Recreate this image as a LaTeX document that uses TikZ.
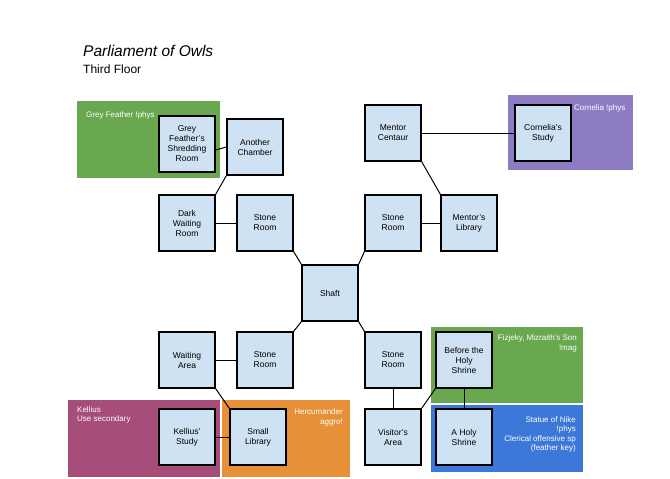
\documentclass[tikz,border=0pt]{standalone}
\usepackage{fontspec}
\setmainfont{Liberation Sans}
\begin{document}
\begin{tikzpicture}[x=1pt,y=-1pt,
  room/.style={draw=black,line width=1.2pt,fill=roomblue,minimum width=56pt,minimum height=56pt,inner sep=1pt,align=center,font=\fontsize{8.5}{10}\selectfont},
  zlabel/.style={text=white,font=\fontsize{8}{9.5}\selectfont,inner sep=0pt},
  link/.style={line width=1pt}]
\definecolor{roomblue}{HTML}{CFE2F3}
\definecolor{zgreen}{HTML}{6AA84F}
\definecolor{zpurple}{HTML}{8E7CC3}
\definecolor{zpink}{HTML}{A64D79}
\definecolor{zorange}{HTML}{E69138}
\definecolor{zblue}{HTML}{3C78D8}
\useasboundingbox (0,0) rectangle (670,479);
\fill[white] (0,0) rectangle (670,479);
% zones
\fill[zgreen] (77,101) rectangle (220,178);
\fill[zpurple] (508,95) rectangle (633,170);
\fill[zgreen] (431,327) rectangle (583,403);
\fill[zblue] (431,405) rectangle (583,472);
\fill[zpink] (68,400) rectangle (220,477);
\fill[zorange] (222,400) rectangle (350,477);
\node[zlabel,anchor=west] (lg) at (86,115) {Grey Feather !phys};
\node[zlabel,anchor=west] (lc) at (574,108) {Cornelia !phys};
\node[zlabel,anchor=north east,align=right] (lf) at (577,335) {Fizjeky, Mizraith's Son\\!mag};
\node[zlabel,anchor=north east,align=right] (ln) at (576,416) {Statue of Nike\\!phys\\Clerical offensive sp\\(feather key)};
\node[zlabel,anchor=north west,align=left] (lk) at (77,406) {Kellius\\Use secondary};
\node[zlabel,anchor=north east,align=right] (lh) at (343,409) {Hercumander\\aggro!};
% title
\node[anchor=west,font=\fontsize{15.5}{18}\selectfont\itshape,inner sep=0pt] (t1) at (83,51) {Parliament of Owls};
\node[anchor=west,font=\fontsize{12}{14}\selectfont,inner sep=0pt] (t2) at (83,69) {Third Floor};
% rooms
\node[room] (grey) at (187,144) {Grey\\Feather's\\Shredding\\Room};
\node[room] (another) at (255,147) {Another\\Chamber};
\node[room] (dark) at (187,223) {Dark\\Waiting\\Room};
\node[room] (s1) at (265,223) {Stone\\Room};
\node[room] (mentor) at (393,133) {Mentor\\Centaur};
\node[room] (cornelia) at (543,133) {Cornelia's\\Study};
\node[room] (s2) at (393,223) {Stone\\Room};
\node[room] (library) at (469,223) {Mentor's\\Library};
\node[room] (shaft) at (330,293) {Shaft};
\node[room] (waiting) at (187,360) {Waiting\\Area};
\node[room] (s3) at (265,360) {Stone\\Room};
\node[room] (s4) at (393,360) {Stone\\Room};
\node[room] (before) at (464,360) {Before the\\Holy\\Shrine};
\node[room] (holy) at (464,437) {A Holy\\Shrine};
\node[room] (visitor) at (393,437) {Visitor's\\Area};
\node[room] (kellius) at (187,437) {Kellius'\\Study};
\node[room] (small) at (258,437) {Small\\Library};
% links
\draw[link] (grey.east) ++(0,6) -- (another.west);
\draw[link] (another.south west) -- (dark.north east);
\draw[link] (dark) -- (s1);
\draw[link] (s1.south east) -- (shaft.north west);
\draw[link] (mentor) -- (cornelia);
\draw[link] (mentor.south east) -- (library.north west);
\draw[link] (s2) -- (library);
\draw[link] (s2.south west) -- (shaft.north east);
\draw[link] (shaft.south west) -- (s3.north east);
\draw[link] (shaft.south east) -- (s4.north west);
\draw[link] (waiting) -- (s3);
\draw[link] (waiting.south east) -- (small.north west);
\draw[link] (kellius) -- (small);
\draw[link] (s4) -- (visitor);
\draw[link] (visitor.north east) -- (before.south west);
\draw[link] (before) -- (holy);
\end{tikzpicture}
\end{document}
